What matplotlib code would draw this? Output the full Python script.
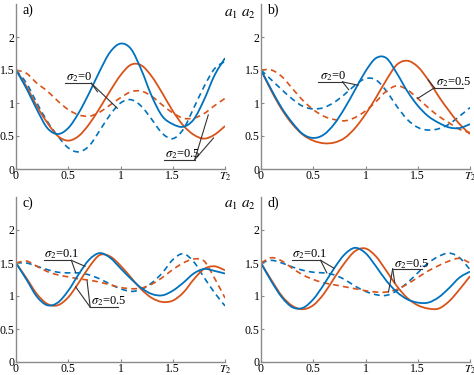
import matplotlib
matplotlib.use('Agg')
import matplotlib.pyplot as plt
from matplotlib.path import Path
from matplotlib.patches import PathPatch
import numpy as np

plt.rcParams['font.family'] = 'Liberation Serif'
plt.rcParams['mathtext.fontset'] = 'stix'

BLUE = '#0072BD'
RED = '#D95319'

t = [0.0, 0.1, 0.2, 0.3, 0.4, 0.5, 0.6, 0.7, 0.8, 0.9, 1.0,
     1.1, 1.2, 1.3, 1.4, 1.5, 1.6, 1.7, 1.8, 1.9, 2.0]

# panel a
a_blue_solid = [1.5, 1.22, 0.9, 0.62, 0.53, 0.62, 0.85, 1.15, 1.48, 1.77, 1.9,
                1.82, 1.5, 1.1, 0.8, 0.68, 0.64, 0.75, 1.05, 1.42, 1.68]
a_red_solid = [1.5, 1.25, 0.95, 0.7, 0.5, 0.43, 0.5, 0.68, 0.92, 1.18, 1.42,
               1.58, 1.57, 1.4, 1.15, 0.88, 0.66, 0.52, 0.46, 0.52, 0.65]
a_blue_dash = [1.5, 1.3, 1.0, 0.72, 0.5, 0.32, 0.26, 0.35, 0.58, 0.82, 1.0,
               1.05, 0.95, 0.75, 0.54, 0.46, 0.6, 0.92, 1.25, 1.52, 1.63]
a_red_dash = [1.5, 1.45, 1.3, 1.18, 1.03, 0.9, 0.82, 0.8, 0.86, 0.97, 1.08,
              1.17, 1.18, 1.1, 0.97, 0.85, 0.77, 0.77, 0.84, 0.96, 1.07]

# panel b
b_blue_solid = [1.5, 1.2, 0.92, 0.7, 0.53, 0.47, 0.52, 0.68, 0.92, 1.2, 1.48,
                1.68, 1.68, 1.45, 1.18, 0.96, 0.8, 0.7, 0.63, 0.62, 0.68]
b_red_solid = [1.5, 1.18, 0.9, 0.68, 0.52, 0.43, 0.39, 0.4, 0.47, 0.62, 0.83,
               1.08, 1.35, 1.58, 1.64, 1.55, 1.35, 1.1, 0.88, 0.68, 0.53]
b_blue_dash = [1.5, 1.35, 1.2, 1.06, 0.95, 0.91, 0.93, 1.01, 1.13, 1.27, 1.37,
               1.35, 1.18, 0.95, 0.75, 0.63, 0.59, 0.61, 0.68, 0.8, 0.93]
b_red_dash = [1.5, 1.5, 1.4, 1.22, 1.04, 0.9, 0.8, 0.75, 0.73, 0.78, 0.88,
              1.02, 1.18, 1.26, 1.2, 1.07, 0.93, 0.8, 0.7, 0.6, 0.55]

# panel c
c_blue_solid = [1.5, 1.25, 0.99, 0.86, 0.9, 1.08, 1.33, 1.55, 1.65, 1.58, 1.42,
                1.26, 1.12, 1.03, 1.01, 1.08, 1.2, 1.34, 1.41, 1.38, 1.34]
c_red_solid = [1.5, 1.27, 1.03, 0.88, 0.86, 0.98, 1.2, 1.44, 1.62, 1.6, 1.46,
               1.28, 1.1, 0.97, 0.91, 0.93, 1.05, 1.25, 1.41, 1.45, 1.39]
c_blue_dash = [1.5, 1.5, 1.45, 1.4, 1.36, 1.35, 1.35, 1.32, 1.26, 1.18, 1.11,
               1.07, 1.1, 1.2, 1.35, 1.55, 1.64, 1.52, 1.28, 1.05, 0.85]
c_red_dash = [1.5, 1.53, 1.45, 1.37, 1.32, 1.29, 1.26, 1.24, 1.21, 1.17, 1.13,
              1.11, 1.12, 1.18, 1.28, 1.4, 1.5, 1.56, 1.53, 1.27, 0.97]

# panel d
d_blue_solid = [1.5, 1.22, 0.98, 0.83, 0.82, 0.95, 1.17, 1.42, 1.63, 1.73, 1.65,
                1.45, 1.23, 1.06, 0.95, 0.9, 0.9, 0.98, 1.12, 1.28, 1.37]
d_red_solid = [1.5, 1.24, 1.0, 0.85, 0.8, 0.86, 1.03, 1.27, 1.5, 1.68, 1.72,
               1.6, 1.38, 1.15, 0.97, 0.86, 0.81, 0.81, 0.92, 1.1, 1.3]
d_blue_dash = [1.5, 1.54, 1.5, 1.44, 1.39, 1.36, 1.35, 1.32, 1.25, 1.15, 1.07,
               1.02, 1.01, 1.08, 1.2, 1.35, 1.5, 1.6, 1.65, 1.58, 1.4]
d_red_dash = [1.5, 1.58, 1.53, 1.42, 1.32, 1.25, 1.2, 1.17, 1.14, 1.11, 1.08,
              1.06, 1.06, 1.1, 1.18, 1.28, 1.38, 1.46, 1.53, 1.57, 1.5]

panels = [
    ('a)', a_blue_solid, a_red_solid, a_blue_dash, a_red_dash),
    ('b)', b_blue_solid, b_red_solid, b_blue_dash, b_red_dash),
    ('c)', c_blue_solid, c_red_solid, c_blue_dash, c_red_dash),
    ('d)', d_blue_solid, d_red_solid, d_blue_dash, d_red_dash),
]

# annotation: label, text x, text y, underline y, underline x0, x1, leader start x, leader ends
notes = [
    [(r'$\sigma_2$=0', 0.48, 1.40, 1.30, 0.47, 0.72, 0.72, [(0.78, 1.17), (0.97, 0.92)]),
     (r'$\sigma_2$=0.5', 1.43, 0.23, 0.14, 1.42, 1.71, 1.71, [(1.84, 0.82), (1.89, 0.47)])],
    [(r'$\sigma_2$=0', 0.56, 1.41, 1.32, 0.55, 0.78, 0.78, [(0.84, 1.2), (0.93, 1.27)]),
     (r'$\sigma_2$=0.5', 1.67, 1.32, 1.23, 1.66, 1.93, 1.66, [(1.5, 1.07), (1.6, 1.35)])],
    [(r'$\sigma_2$=0.1', 0.27, 1.63, 1.54, 0.27, 0.53, 0.53, [(0.57, 1.36), (0.66, 1.45)]),
     (r'$\sigma_2$=0.5', 0.72, 0.92, 0.83, 0.71, 0.98, 0.71, [(0.57, 1.14), (0.68, 1.23)])],
    [(r'$\sigma_2$=0.1', 0.30, 1.63, 1.54, 0.30, 0.57, 0.57, [(0.63, 1.35), (0.7, 1.42)]),
     (r'$\sigma_2$=0.5', 1.27, 1.49, 1.41, 1.26, 1.54, 1.26, [(1.22, 1.06), (1.28, 1.2)])],
]


def smooth_curve(ax, xs, ys, **kw):
    # Catmull-Rom through the read points, drawn as cubic bezier segments
    p = np.column_stack([xs, ys])
    verts = [p[0]]
    codes = [Path.MOVETO]
    n = len(p)
    for k in range(n - 1):
        p0 = p[k - 1] if k > 0 else p[k]
        p3 = p[k + 2] if k + 2 < n else p[k + 1]
        c1 = p[k] + (p[k + 1] - p0) / 6
        c2 = p[k + 1] - (p3 - p[k]) / 6
        verts += [c1, c2, p[k + 1]]
        codes += [Path.CURVE4] * 3
    ax.add_patch(PathPatch(Path(verts, codes), fill=False, **kw))


W, H = 474, 375
fig = plt.figure(figsize=(W / 100, H / 100), dpi=100)

lefts = [16, 261, 16, 261]
bottoms = [375 - 169, 375 - 169, 375 - 362, 375 - 362]
aw, ah = 209, 165
dash = (0, (3.5, 2.5))

for i, (tag, bs, rs, bd, rd) in enumerate(panels):
    ax = fig.add_axes([lefts[i] / W, bottoms[i] / H, aw / W, ah / H])
    smooth_curve(ax, t, bd, edgecolor=BLUE, lw=1.2, ls=dash)
    smooth_curve(ax, t, rd, edgecolor=RED, lw=1.2, ls=dash)
    smooth_curve(ax, t, rs, edgecolor=RED, lw=1.3)
    smooth_curve(ax, t, bs, edgecolor=BLUE, lw=1.3)
    ax.set_xlim(0, 2)
    ax.set_ylim(0, 2.5)
    ax.set_xticks([0, 0.5, 1, 1.5, 2])
    ax.set_xticklabels(['0', '0.5', '1', '1.5', '$T_2$'])
    ax.set_yticks([0, 0.5, 1, 1.5, 2])
    ax.set_yticklabels(['0', '0.5', '1', '1.5', '2'])
    for s in ['top', 'right']:
        ax.spines[s].set_visible(False)
    for s in ['left', 'bottom']:
        ax.spines[s].set_color('#8a8a8a')
        ax.spines[s].set_linewidth(1.0)
    ax.tick_params(direction='in', length=2, width=0.8, color='#8a8a8a',
                   labelsize=8.5, pad=1)
    ax.patch.set_alpha(0)
    ax.text(0.03, 1.0, tag, transform=ax.transAxes, fontsize=10, va='top')
    for lab, tx, ty, uy, ux0, ux1, lx, ends in notes[i]:
        ax.text(tx, ty, lab, fontsize=9, va='center', ha='left')
        ax.plot([ux0, ux1], [uy, uy], color='#333333', lw=0.8)
        for ex, ey in ends:
            ax.plot([lx, ex], [uy, ey], color='#333333', lw=0.8)

for yp in [14, 205]:
    fig.text(240 / W, 1 - yp / H, r'$a_1\ a_2$', fontsize=11, ha='center', va='center')

fig.savefig('out.png', dpi=100)
